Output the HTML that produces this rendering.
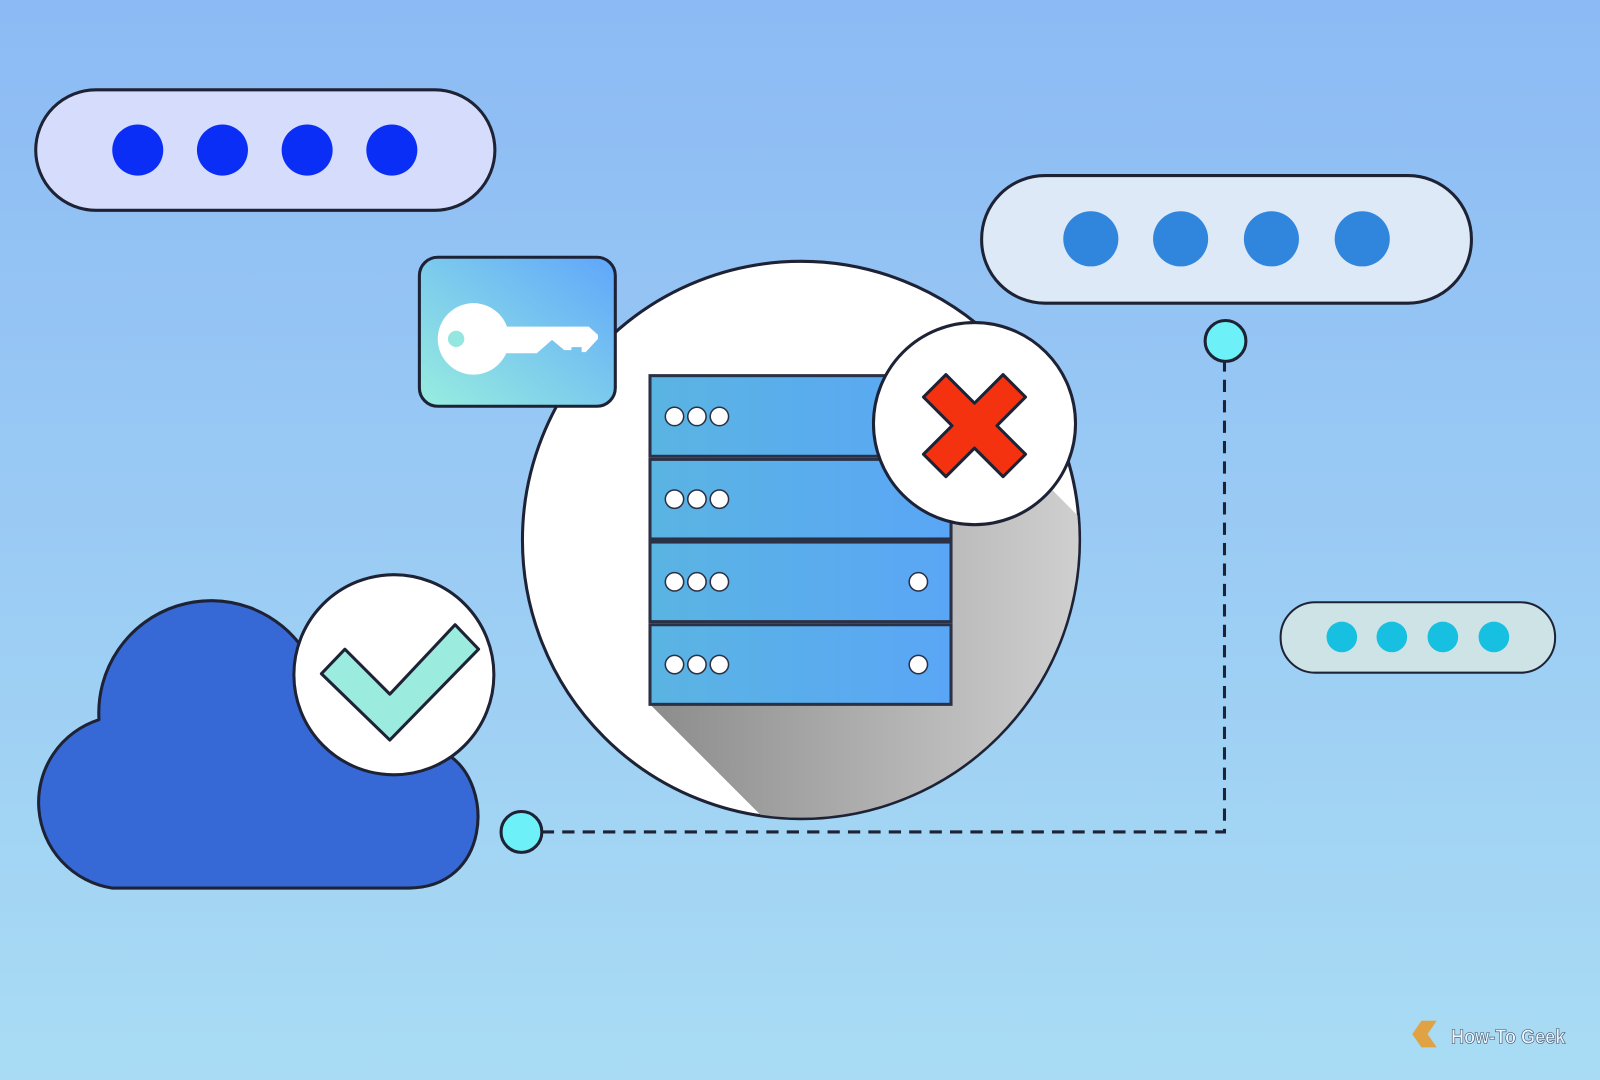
<!DOCTYPE html>
<html><head><style>html,body{margin:0;padding:0;width:1600px;height:1080px;overflow:hidden}</style></head>
<body>
<svg width="1600" height="1080" viewBox="0 0 1568 1058" preserveAspectRatio="none" xmlns="http://www.w3.org/2000/svg">
<defs>
<linearGradient id="bg" x1="0" y1="0" x2="0" y2="1"><stop offset="0" stop-color="#8cbaf4"/><stop offset="1" stop-color="#a9dcf4"/></linearGradient>
<linearGradient id="key" x1="0" y1="1" x2="1" y2="0"><stop offset="0" stop-color="#98eedf"/><stop offset="1" stop-color="#5fa6fb"/></linearGradient>
<linearGradient id="srv" x1="0" y1="0" x2="1" y2="0"><stop offset="0" stop-color="#5ab4e2"/><stop offset="1" stop-color="#5aa6f6"/></linearGradient>
<linearGradient id="sh" x1="0" y1="0" x2="1" y2="0"><stop offset="0" stop-color="#8c8c8c"/><stop offset="1" stop-color="#e6e6e6"/></linearGradient>
<clipPath id="cc"><circle cx="785" cy="529" r="272"/></clipPath>
</defs>
<rect width="1568" height="1058" fill="url(#bg)"/>
<rect x="35" y="88" width="450" height="118" rx="59" fill="#d6dcfb" stroke="#1e2235" stroke-width="3"/>
<g fill="#0a2ef5"><circle cx="135" cy="147" r="25"/><circle cx="218" cy="147" r="25"/><circle cx="301" cy="147" r="25"/><circle cx="384" cy="147" r="25"/></g>
<rect x="962" y="172" width="480" height="125" rx="62" fill="#dde9f6" stroke="#1e2235" stroke-width="3"/>
<g fill="#2f86dc"><circle cx="1069" cy="234" r="27"/><circle cx="1157" cy="234" r="27"/><circle cx="1246" cy="234" r="27"/><circle cx="1335" cy="234" r="27"/></g>
<rect x="1255" y="590" width="269" height="69" rx="34" fill="#cde3e6" stroke="#1e2235" stroke-width="2"/>
<g fill="#17bfe0"><circle cx="1315" cy="624" r="15"/><circle cx="1364" cy="624" r="15"/><circle cx="1414" cy="624" r="15"/><circle cx="1464" cy="624" r="15"/></g>
<path d="M511 815 H1200 V352" fill="none" stroke="#1e2235" stroke-width="3" stroke-dasharray="12 8"/>
<circle cx="511" cy="815" r="20" fill="#6ef0f8" stroke="#1e2235" stroke-width="3"/>
<circle cx="1201" cy="334" r="20" fill="#6ef0f8" stroke="#1e2235" stroke-width="3"/>
<circle cx="785" cy="529" r="273" fill="#fff" stroke="#1e2235" stroke-width="3"/>
<polygon clip-path="url(#cc)" points="637,690 932,690 932,380 1200,650 1200,1000 947,1000" fill="url(#sh)"/>
<g stroke="#2a3045" stroke-width="3" fill="url(#srv)">
<rect x="637" y="368" width="295" height="79"/><rect x="637" y="450" width="295" height="78"/>
<rect x="637" y="531" width="295" height="78"/><rect x="637" y="612" width="295" height="78"/></g>
<g fill="#fff" stroke="#2a3045" stroke-width="1.5">
<circle cx="661" cy="408" r="9"/><circle cx="683" cy="408" r="9"/><circle cx="705" cy="408" r="9"/>
<circle cx="661" cy="489" r="9"/><circle cx="683" cy="489" r="9"/><circle cx="705" cy="489" r="9"/>
<circle cx="661" cy="570" r="9"/><circle cx="683" cy="570" r="9"/><circle cx="705" cy="570" r="9"/><circle cx="900" cy="570" r="9"/>
<circle cx="661" cy="651" r="9"/><circle cx="683" cy="651" r="9"/><circle cx="705" cy="651" r="9"/><circle cx="900" cy="651" r="9"/></g>
<circle cx="955" cy="415" r="99" fill="#fff" stroke="#1e2235" stroke-width="3"/>
<polygon points="927,367 955,395 983,367 1005,389 977,417 1005,445 983,467 955,439 927,467 905,445 933,417 905,389" fill="#f5320f" stroke="#1e2235" stroke-width="3" stroke-linejoin="round"/>
<rect x="411" y="252" width="192" height="146" rx="18" fill="url(#key)" stroke="#1e2235" stroke-width="3"/>
<g fill="#fff">
<circle cx="464" cy="332" r="35"/>
<path d="M495 320 L577 320 L586 328 L586 332 L574 345 L570 345 L570 340 L560 340 L560 343 L553 343 L541 333 L526 346 L495 346 Z"/>
</g>
<circle cx="447" cy="332" r="8" fill="#94e6e0"/>
<path d="M110 870 A85 85 0 0 1 97 705 A110 110 0 0 1 300 640 L440 740 C485 770 480 870 400 870 Z" fill="#3669d6" stroke="#1e2235" stroke-width="3" stroke-linejoin="round"/>
<circle cx="386" cy="661" r="98" fill="#fff" stroke="#1e2235" stroke-width="3"/>
<polygon points="315,660 338,636 382,680 446,612 469,636 382,725" fill="#9cebdf" stroke="#1e2235" stroke-width="3" stroke-linejoin="round"/>
<g transform="translate(1384,1000)">
<polygon points="0,13 9,0 24,0 15,13 24,26 9,26" fill="#e0a243"/>
<text x="38" y="22" font-family="Liberation Sans, sans-serif" font-size="20" font-weight="bold" fill="#e8f4ff" stroke="#3a4a60" stroke-width="0.6" textLength="112" lengthAdjust="spacingAndGlyphs">How-To Geek</text>
</g>
</svg>
</body></html>
